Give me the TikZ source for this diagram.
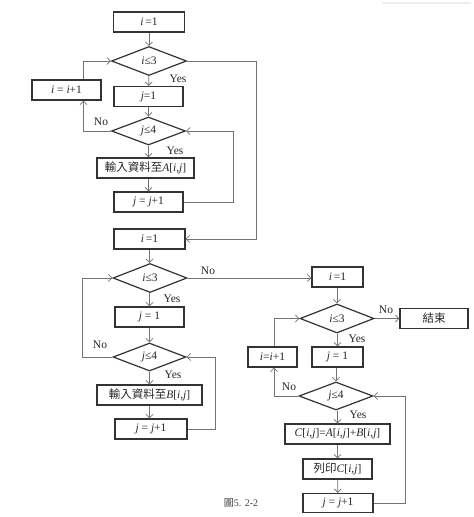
\documentclass[tikz,border=0pt]{standalone}
\usepackage{fontspec}
\setmainfont{Liberation Serif}
\newfontfamily\cjk{Noto Sans CJK TC}
\usetikzlibrary{shapes.geometric,arrows.meta}
\begin{document}
\begin{tikzpicture}[x=1pt,y=-1pt,
  every node/.style={font=\fontsize{11.5}{13}\selectfont, text=black!85},
  box/.style={draw=black!80, line width=1.2pt, minimum width=#1, minimum height=20pt, inner sep=0pt},
  box/.default=70pt,
  dia/.style={draw=black!80, line width=1.2pt, diamond, minimum width=75pt, minimum height=29pt, inner sep=0pt},
  arr/.style={draw=black!55, line width=0.8pt, -{Straight Barb[length=3.5pt,width=7pt]}},
  lab/.style={inner sep=0pt}
]
\useasboundingbox[fill=white] (0,0) rectangle (474,517);
\draw[black!7, line width=1.2pt] (382,3) -- (471,3);

% ---- section 1
\node[box=71pt] (a1) at (149,22) {\textit{i}\,=1};
\node[dia] (d1) at (149,61) {\textit{i}≤3};
\node[box=69pt] (b1) at (148.5,96.5) {\textit{j}=1};
\node[box=69pt] (c1) at (66.5,90) {\textit{i} = \textit{i}+1};
\node[dia, minimum width=74pt, minimum height=28pt] (d2) at (148.5,131) {\textit{j}≤4};
\node[box=97pt] (e1) at (145.5,168) {{\cjk 輸入資料至}\textit{A}[\textit{i},\textit{j}]};
\node[box=69pt] (f1) at (148.5,202) {\textit{j} = \textit{j}+1};

\draw[arr] (a1) -- (d1);
\draw[arr] (d1) -- (b1);
\node[lab] (y1) at (178,79) {Yes};
\draw[arr] (b1) -- (d2);
\draw[arr] (d2) -- (e1.north -| d2.south);
\node[lab] (y2) at (175,151) {Yes};
\draw[arr] (e1.south -| f1.north) -- (f1);
\draw[arr] (f1.east) -- ++(50,0) |- (d2.east);
\draw[arr] (d2.west) -| ([xshift=17pt]c1.south);
\node[lab] (n1) at (101,122) {No};
\draw[arr] ([xshift=17pt]c1.north) |- (d1.west);

% ---- section 2
\node[box=71pt] (a2) at (149.5,239) {\textit{i}\,=1};
\node[dia, minimum width=74pt] (d3) at (150,278) {\textit{i}≤3};
\node[box=69pt] (b2) at (149.5,317) {\textit{j} = 1};
\node[dia, minimum width=73pt, minimum height=28pt] (d4) at (149.5,357) {\textit{j}≤4};
\node[box=105pt] (e2) at (149.5,395) {{\cjk 輸入資料至}\textit{B}[\textit{i},\textit{j}]};
\node[box=72pt] (f2) at (151,429) {\textit{j} = \textit{j}+1};

\draw[arr] (d1.east) -- ++(69.5,0) |- (a2.east);
\draw[arr] (a2) -- (d3.north -| a2.south);
\draw[arr] (d3.south -| b2.north) -- (b2);
\node[lab] (y3) at (172,299) {Yes};
\draw[arr] (b2) -- (d4);
\draw[arr] (d4) -- (e2);
\node[lab] (y4) at (173,375) {Yes};
\draw[arr] (e2.south -| d4.south) -- (f2.north -| d4.south);
\draw[arr] (f2.east) -- ++(28,0) |- (d4.east);
\draw[arr] (d4.west) -- ++(-30,0) |- (d3.west);
\node[lab] (n2) at (100,345) {No};
\node[lab] (n3) at (208,271) {No};

% ---- section 3
\node[box=51pt] (a3) at (337.5,277) {\textit{i}\,=1};
\node[dia, minimum width=74pt] (d5) at (337,318.5) {\textit{i}≤3};
\node[box=68pt] (g) at (434,318.5) {\cjk 結束};
\node[box=51pt] (b3) at (337.5,357) {\textit{j} = 1};
\node[box=49pt] (c3) at (272.5,357) {\textit{i}=\textit{i}+1};
\node[dia, minimum width=74pt, minimum height=28pt] (d6) at (336,396) {\textit{j}≤4};
\node[box=105pt] (h) at (337.5,434) {\textit{C}[\textit{i},\textit{j}]=\textit{A}[\textit{i},\textit{j}]+\textit{B}[\textit{i},\textit{j}]};
\node[box=69pt] (p) at (337.5,469) {{\cjk 列印}\textit{C}[\textit{i},\textit{j}]};
\node[box=70pt, minimum height=19pt] (f3) at (338,503) {\textit{j} = \textit{j}+1};
\node[lab, font=\fontsize{10}{11}\selectfont, text=black!75] (cap) at (241,503) {{\cjk 圖}5. 2-2};

\draw[arr] (d3.east) -- (d3.east -| a3.west);
\draw[arr] (a3.south -| d5.north) -- (d5);
\draw[arr] (d5) -- (g);
\node[lab] (n4) at (386,310) {No};
\draw[arr] (d5.south -| b3.north) -- (b3);
\node[lab] (y5) at (357,339) {Yes};
\draw[arr] (b3.south -| d6.north) -- (d6);
\draw[arr] (d6.west) -| ([xshift=1.5pt]c3.south);
\node[lab] (n5) at (289,387) {No};
\draw[arr] ([xshift=1.5pt]c3.north) |- (d5.west);
\draw[arr] (d6.south -| h.north) -- (h);
\node[lab] (y6) at (358,415) {Yes};
\draw[arr] (h) -- (p);
\draw[arr] (p) -- (f3);
\draw[arr] (f3.east) -- ++(32,0) |- (d6.east);
\end{tikzpicture}
\end{document}
